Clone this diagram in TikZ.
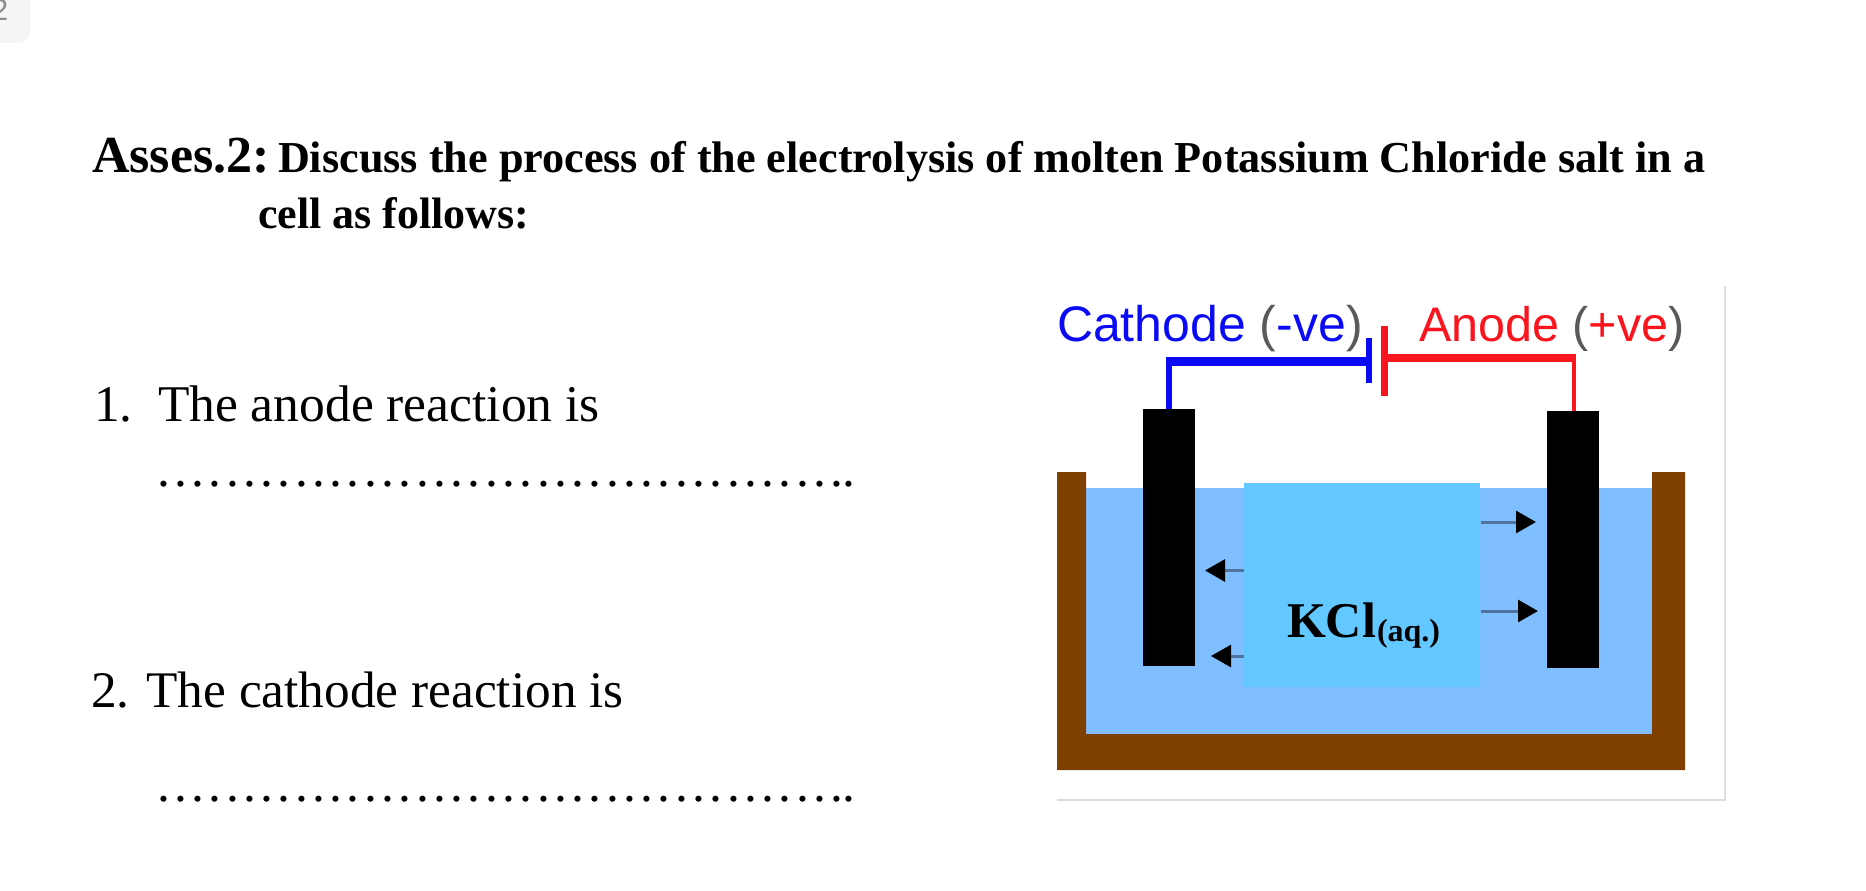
\documentclass[tikz,border=0pt]{standalone}
\usepackage{fontspec}
\setmainfont{Liberation Serif}
\newfontfamily\arialf{Liberation Sans}
\usetikzlibrary{arrows.meta}
\definecolor{brownc}{RGB}{127,63,0}
\definecolor{waterc}{RGB}{128,191,255}
\definecolor{saltc}{RGB}{98,200,255}
\definecolor{bluew}{RGB}{10,10,245}
\definecolor{redw}{RGB}{250,20,30}
\definecolor{paren}{RGB}{90,90,90}
\definecolor{framec}{RGB}{220,220,220}
\definecolor{arrowl}{RGB}{80,115,160}
\newcommand{\fsz}[1]{\fontsize{#1}{#1}\selectfont}
\newcommand{\dotrow}{\foreach \i in {1,...,39}{.\kern4.4pt}.\kern-1pt.}
\tikzset{
  txt/.style={anchor=base west,inner sep=0pt,outer sep=0pt,text=black},
  electrode/.style={rectangle,fill=black,inner sep=0pt,outer sep=0pt,minimum width=52pt,minimum height=257pt},
  plate/.style={rectangle,inner sep=0pt,outer sep=0pt},
  ionarrow/.style={draw=arrowl,line width=3pt,-{Triangle[length=20pt,width=22pt,black]}},
}
\begin{document}
\begin{tikzpicture}[x=1pt,y=-1pt]
\useasboundingbox (0,0) rectangle (1866,891);
% corner tab
\fill[black!4,rounded corners=12pt] (-20,-20) rectangle (30,43);
\node[txt,text=black!45] (tab) at (-8.5,21) {\arialf\fsz{30}2};
% heading
\node[txt] (h1) at (92,172) {\fsz{52}\bfseries Asses.2:};
\node[txt] (h2) at (278,172) {\fsz{44.2}\bfseries Discuss the process of the electrolysis of molten Potassium Chloride salt in a};
\node[txt] (h3) at (258,228) {\fsz{44}\bfseries cell as follows:};
% questions
\node[txt] (q1) at (94,421) {\fsz{51.5}1.};
\node[txt] (q1t) at (158,421) {\fsz{51.5}The anode reaction is};
\node[txt] (d1) at (157,486) {\fsz{51.5}\dotrow};
\node[txt] (q2) at (91,707) {\fsz{51.3}2. The cathode reaction is};
\node[txt] (d2) at (157,801) {\fsz{51.5}\dotrow};
% picture frame
\coordinate (f1) at (1725,286);
\coordinate (f2) at (1725,800);
\coordinate (f3) at (1057,800);
\draw[framec,line width=1.5pt] (f1) -- (f2) -- (f3);
% tank
\fill[waterc] (1086,488) rectangle (1652,734);
\fill[brownc] (1057,472) -- (1086,472) -- (1086,734) -- (1652,734) -- (1652,472) -- (1685,472) -- (1685,770) -- (1057,770) -- cycle;
% salt
\node[rectangle,fill=saltc,inner sep=0pt,outer sep=0pt,minimum width=236pt,minimum height=204pt] (salt) at (1362,585) {};
\node[txt] (kcl) at (1287,637) {\fsz{50}\bfseries KCl};
\node[txt] (aq) at (1377,641) {\fsz{32}\bfseries (aq.)};
% electrodes
\node[electrode] (cath) at (1169,537.5) {};
\node[electrode] (anod) at (1572.5,539.5) {};
% battery plates
\node[plate,fill=bluew,minimum width=6pt,minimum height=45pt] (pb) at (1368.7,360.5) {};
\node[plate,fill=redw,minimum width=7pt,minimum height=70pt] (pr) at (1384,361) {};
% wires
\coordinate (cb) at (1169,361.5);
\coordinate (cr) at (1574,358);
\coordinate (cbs) at (1368,361.5);
\coordinate (crs) at (1384,358);
\draw[bluew,line width=9pt] (cbs) -- ([xshift=-2.75pt]cb);
\draw[bluew,line width=5.5pt] (cath.north) -- ([yshift=-4pt]cb);
\draw[redw,line width=8pt] (crs) -- ([xshift=2pt]cr);
\draw[redw,line width=4.5pt] (anod.north-|cr) -- ([yshift=-4pt]cr);
% labels
\node[txt] (lc) at (1057,341) {\arialf\fsz{50}\textcolor{bluew}{Cathode} \textcolor{paren}{(}\textcolor{bluew}{-ve}\textcolor{paren}{)}};
\node[txt] (la) at (1419,341) {\arialf\fsz{48.5}\textcolor{redw}{Anode} \textcolor{paren}{(}\textcolor{redw}{+ve}\textcolor{paren}{)}};
% ion arrows
\coordinate (a1s) at (1481,522); \coordinate (a1e) at (1536,522);
\coordinate (a2s) at (1481,611); \coordinate (a2e) at (1538,611);
\coordinate (a3s) at (1244,570.5); \coordinate (a3e) at (1205,570.5);
\coordinate (a4s) at (1244,656); \coordinate (a4e) at (1211,656);
\draw[ionarrow] (a1s) -- (a1e);
\draw[ionarrow] (a2s) -- (a2e);
\draw[ionarrow] (a3s) -- (a3e);
\draw[ionarrow] (a4s) -- (a4e);
\end{tikzpicture}
\end{document}
